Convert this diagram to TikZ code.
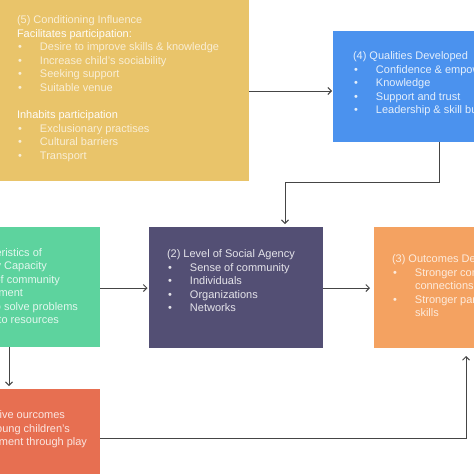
\documentclass[tikz,border=0pt]{standalone}
\usepackage{fontspec}
\setmainfont{Liberation Sans}
\usetikzlibrary{arrows.meta}
\definecolor{cyel}{HTML}{E9C46A}
\definecolor{cblu}{HTML}{4B92EE}
\definecolor{cgrn}{HTML}{5DD39E}
\definecolor{cpur}{HTML}{534F74}
\definecolor{corg}{HTML}{F4A261}
\definecolor{cred}{HTML}{E76F51}
\definecolor{cline}{HTML}{454545}
\newcommand\bitem[1]{\hspace*{1pt}\makebox[22pt][l]{\textbullet}#1}
\begin{document}
\begin{tikzpicture}[x=1pt,y=-1pt,
  box/.style={draw=none,inner sep=0pt,outer sep=0pt,anchor=north west},
  txt/.style={inner sep=0pt,outer sep=0pt,anchor=base west,font=\fontsize{11}{13.6}\selectfont},
  etxt/.style={txt,anchor=base east},
  arr/.style={draw=cline,line width=1pt,-{Straight Barb[length=3.5pt,width=7pt]}}]
\useasboundingbox (0,0) rectangle (474,474);
\fill[white] (0,0) rectangle (474,474);
\clip (0,0) rectangle (474,474);
% boxes
\node[box,fill=cyel,minimum width=255pt,minimum height=187pt] (b5) at (-6,-6) {};
\node[box,fill=cblu,minimum width=150pt,minimum height=111pt] (b4) at (333,31) {};
\node[box,fill=cgrn,minimum width=160pt,minimum height=120pt] (b1) at (-60,227) {};
\node[box,fill=cpur,minimum width=174pt,minimum height=121pt] (b2) at (149,227) {};
\node[box,fill=corg,minimum width=110pt,minimum height=121pt] (b3) at (374,227) {};
\node[box,fill=cred,minimum width=160pt,minimum height=100pt] (b6) at (-60,389) {};
% texts
\node[txt,text=white!72!cyel] (t5) at (17,23.5) {\begin{tabular}[t]{@{}l@{}}
(5) Conditioning Influence\\
\textcolor{white!95!cyel}{Facilitates participation:}\\
\bitem{Desire to improve skills \& knowledge}\\
\bitem{Increase child's sociability}\\
\bitem{Seeking support}\\
\bitem{Suitable venue}\\
\\
\textcolor{white!95!cyel}{Inhabits participation}\\
\bitem{Exclusionary practises}\\
\bitem{Cultural barriers}\\
\bitem{Transport}
\end{tabular}};
\node[txt,text=white!85!cblu] (t4) at (353,59.5) {\begin{tabular}[t]{@{}l@{}}
(4) Qualities Developed\\
\bitem{Confidence \& empowerment}\\
\bitem{Knowledge}\\
\bitem{Support and trust}\\
\bitem{Leadership \& skill building}
\end{tabular}};
\node[txt,text=white!85!cpur] (t2) at (167,257.5) {\begin{tabular}[t]{@{}l@{}}
(2) Level of Social Agency\\
\bitem{Sense of community}\\
\bitem{Individuals}\\
\bitem{Organizations}\\
\bitem{Networks}
\end{tabular}};
\node[txt,text=white!78!corg] (t3) at (392,262.5) {\begin{tabular}[t]{@{}l@{}}
(3) Outcomes Developed\\
\bitem{Stronger community}\\
\hspace*{23pt}connections\\
\bitem{Stronger parenting}\\
\hspace*{23pt}skills
\end{tabular}};
\node[etxt,text=white!82!cgrn] (t1a) at (42,256.5) {(1) Characteristics of};
\node[etxt,text=white!82!cgrn] (t1b) at (47,269.8) {Community Capacity};
\node[etxt,text=white!82!cgrn] (t1c) at (60,283.2) {Level of community};
\node[etxt,text=white!82!cgrn] (t1d) at (23,296.6) {involvement};
\node[etxt,text=white!82!cgrn] (t1e) at (78,310) {Ability to solve problems};
\node[etxt,text=white!82!cgrn] (t1f) at (59,323.4) {Access to resources};
\node[etxt,text=white!82!cred] (t6a) at (65,418.5) {(6) Positive ourcomes};
\node[etxt,text=white!82!cred] (t6b) at (70,432) {for young children's};
\node[etxt,text=white!82!cred] (t6c) at (87,445.5) {development through play};
% connector coordinates
\coordinate (y91) at (0,91);
\coordinate (y288) at (0,288);
\coordinate (k1) at (439,182);
\coordinate (k2) at (285,182);
\coordinate (x9) at (9,0);
\coordinate (k3) at (466,438);
% connectors
\draw[arr,shorten >=1pt] (b5.east |- y91) -- (b4.west |- y91);
\draw[arr,shorten >=3pt] (b4.south -| k1) -- (k1) -- (k2) -- (b2.north -| k2);
\draw[arr,shorten >=1.5pt] (b1.east |- y288) -- (b2.west |- y288);
\draw[arr,shorten >=4pt] (b2.east |- y288) -- (b3.west |- y288);
\draw[arr,shorten >=3pt] (b1.south -| x9) -- (b6.north -| x9);
\draw[arr,shorten >=8pt] (b6.east |- k3) -- (k3) -- (b3.south -| k3);
\end{tikzpicture}
\end{document}
